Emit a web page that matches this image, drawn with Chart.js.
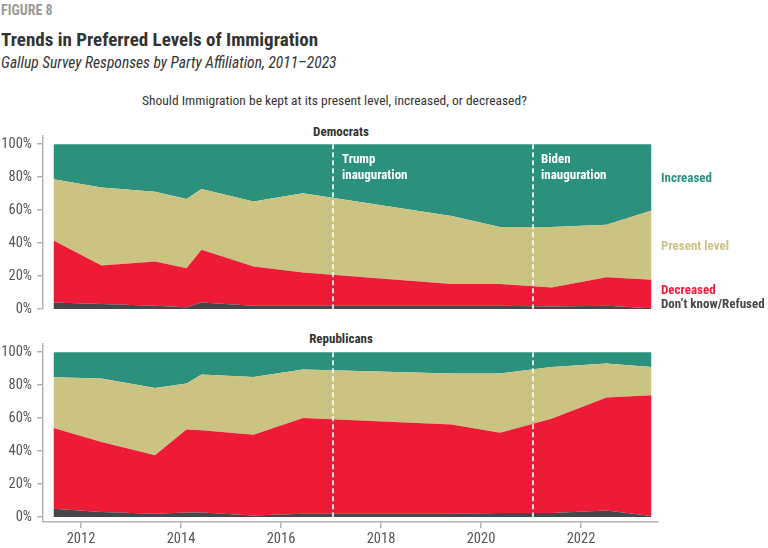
<!DOCTYPE html>
<html>
<head>
<meta charset="utf-8">
<script src="https://cdn.jsdelivr.net/npm/chart.js@4.4.1/dist/chart.umd.min.js"></script>
<style>
  body { margin:0; width:768px; height:548px; position:relative; background:#fff; overflow:hidden;
         font-family:'Liberation Sans Narrow','Roboto Condensed',Roboto,sans-serif; }
  .t { position:absolute; white-space:nowrap; line-height:1; }
  .b { font-weight:bold; }
  .wrap { position:absolute; left:0; width:768px; }
</style>
</head>
<body>
<div class="t b" style="left:1px;top:3px;font-size:14px;color:#9a9a9a;">FIGURE 8</div>
<div class="t b" style="left:1px;top:30px;font-size:19px;color:#333;">Trends in Preferred Levels of Immigration</div>
<div class="t" style="left:1px;top:56px;font-size:15.5px;font-style:italic;color:#333;">Gallup Survey Responses by Party Affiliation, 2011–2023</div>
<div class="t" style="left:142px;top:94px;font-size:13.5px;color:#333;">Should Immigration be kept at its present level, increased, or decreased?</div>

<div class="t b" style="left:341px;top:125px;font-size:13px;color:#333;transform:translateX(-50%);">Democrats</div>
<div class="t b" style="left:341px;top:332px;font-size:13px;color:#333;transform:translateX(-50%);">Republicans</div>

<div class="wrap" style="top:126px;height:191px;"><canvas id="dem"></canvas></div>
<div class="wrap" style="top:334px;height:214px;"><canvas id="rep"></canvas></div>

<div class="t b" style="left:342px;top:151px;font-size:13px;color:#fff;line-height:15.5px;">Trump<br>inauguration</div>
<div class="t b" style="left:541px;top:151px;font-size:13px;color:#fff;line-height:15.5px;">Biden<br>inauguration</div>

<div class="t b" style="left:661px;top:171px;font-size:13px;color:#2b917d;">Increased</div>
<div class="t b" style="left:661px;top:239px;font-size:13px;color:#cbc382;">Present level</div>
<div class="t b" style="left:661px;top:283px;font-size:13px;color:#ed1b36;">Decreased</div>
<div class="t b" style="left:661px;top:297px;font-size:13px;color:#46474a;">Don’t know/Refused</div>

<script>
// survey dates (decimal years)
const years = [2011.45, 2012.41, 2013.48, 2014.11, 2014.41, 2015.45, 2016.44, 2019.41, 2020.38, 2021.41, 2022.51, 2023.41];

// Democrats, % of responses
const demDK   = [4, 3, 2, 1, 4, 2, 2, 2, 2, 1.5, 2, 0.5];
const demDec  = [37.6, 23.4, 26.9, 23.8, 31.9, 23.8, 20.2, 13.1, 13.1, 11.6, 17.2, 17.3];
const demPres = [37.2, 47.3, 42.2, 41.9, 37, 39.4, 48.1, 41.4, 34.6, 36.6, 31.9, 42];
const demInc  = [21.2, 26.3, 28.9, 33.3, 27.1, 34.8, 29.7, 43.5, 50.3, 50.3, 48.9, 40.2];

// Republicans, % of responses
const repDK   = [5, 3, 2, 2.7, 2.7, 1, 2, 2, 2.4, 2.5, 4, 0.6];
const repDec  = [49, 42.5, 35.5, 50.4, 49.9, 49, 58.1, 54.1, 48.8, 57.2, 68.5, 73.3];
const repPres = [30.8, 38.5, 40.8, 27.9, 33.9, 35, 29.4, 31, 35.9, 31.4, 20.6, 17.2];
const repInc  = [15.2, 16, 21.7, 19, 13.5, 15, 10.5, 12.9, 12.9, 8.9, 6.9, 8.9];

const inaugurations = [2017.05, 2021.05];
const xTicks = [2012, 2014, 2016, 2018, 2020, 2022];
const yTicks = [0, 20, 40, 60, 80, 100];

const colors = ["#46474a", "#ed1b36", "#cbc382", "#2b917d"];
const FONT = "'Liberation Sans Narrow','Roboto Condensed',Roboto,sans-serif";

/* dashed inauguration lines */
const inaugLines = {
  id: "inaugLines",
  afterDatasetsDraw(chart) {
    const { ctx, scales: { x, y } } = chart;
    ctx.save();
    ctx.strokeStyle = "rgba(255,255,255,0.9)";
    ctx.lineWidth = 1.8;
    ctx.setLineDash([5, 3]);
    inaugurations.forEach(d => {
      const px = Math.round(x.getPixelForValue(d));
      ctx.beginPath();
      ctx.moveTo(px, y.getPixelForValue(100));
      ctx.lineTo(px, y.getPixelForValue(0));
      ctx.stroke();
    });
    ctx.restore();
  }
};

function makeChart(id, series, showX) {
  const datasets = series.map((arr, i) => ({
    data: years.map((x, j) => ({ x, y: arr[j] })),
    backgroundColor: colors[i],
    borderWidth: 0,
    pointRadius: 0,
    fill: i === 0 ? "origin" : "-1",
    tension: 0
  }));

  return new Chart(document.getElementById(id), {
    type: "line",
    data: { datasets },
    options: {
      responsive: true,
      maintainAspectRatio: false,
      animation: false,
      layout: { padding: { left: 0, right: 110, top: 10, bottom: showX ? 0 : 8 } },
      plugins: { legend: { display: false }, tooltip: { enabled: false } },
      scales: {
        x: {
          type: "linear",
          min: 2011.24,
          max: 2023.54,
          display: showX,
          afterBuildTicks: s => { s.ticks = xTicks.map(v => ({ value: v })); },
          afterFit: s => {
            if (showX) s.height = 26;
            s.paddingLeft = 0; s.paddingRight = 0;
          },
          border: { color: "#b4b4b4", width: 1.5 },
          grid: { drawOnChartArea: false, tickLength: 6, color: "#b4b4b4", lineWidth: 1.5 },
          ticks: { color: "#555", font: { family: FONT, size: 14.5 }, padding: 3, callback: v => String(v) }
        },
        y: {
          stacked: true,
          min: showX ? -3 : 0,
          max: 105,
          afterBuildTicks: s => { s.ticks = yTicks.map(v => ({ value: v })); },
          afterFit: s => { s.width = 43; s.paddingTop = 0; s.paddingBottom = 0; },
          border: { color: "#b4b4b4", width: 1.5 },
          grid: { drawOnChartArea: false, tickLength: 6, color: "#b4b4b4", lineWidth: 1.5 },
          ticks: { color: "#555", font: { family: FONT, size: 14.5 }, padding: 5, callback: v => v + "%" }
        }
      }
    },
    plugins: [inaugLines]
  });
}

makeChart("dem", [demDK, demDec, demPres, demInc], false);
makeChart("rep", [repDK, repDec, repPres, repInc], true);
</script>
</body>
</html>
